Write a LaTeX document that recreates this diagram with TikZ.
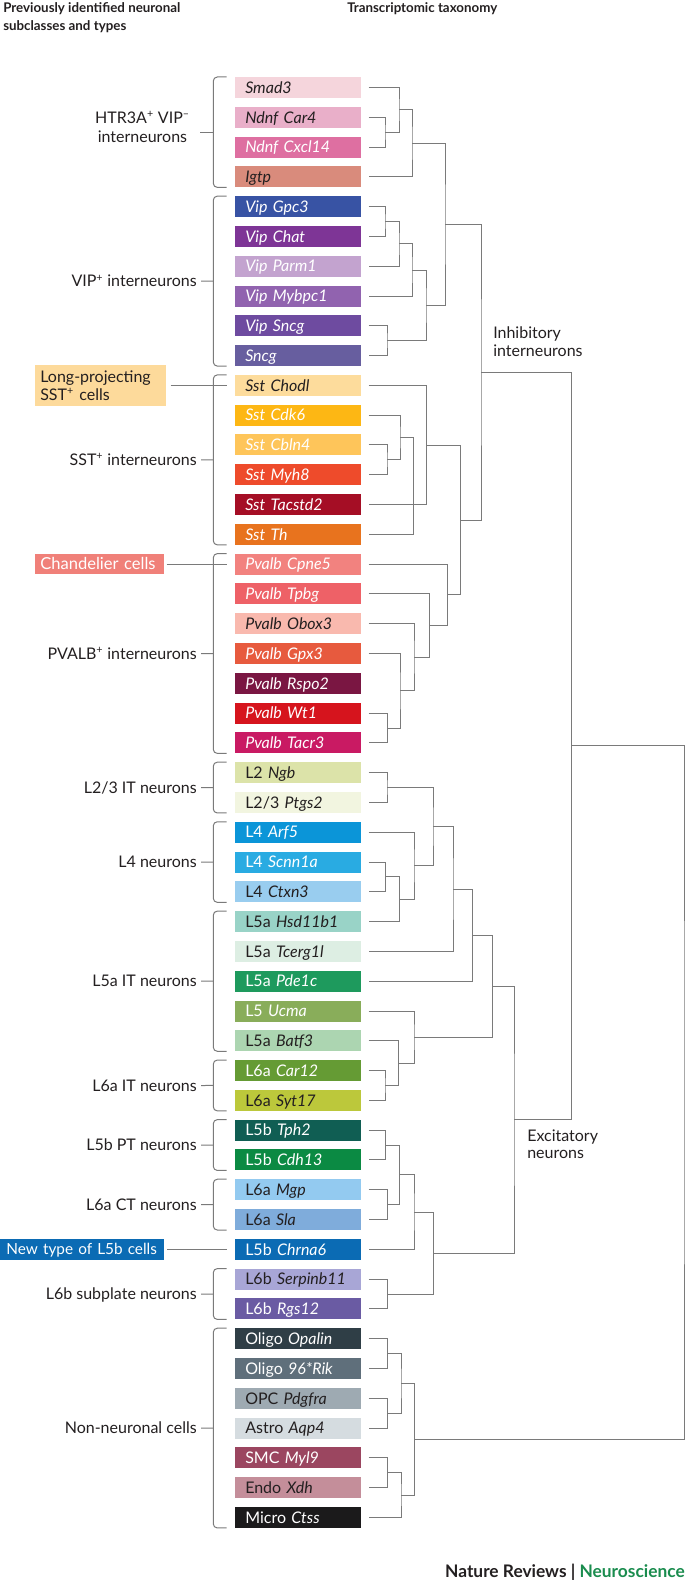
\documentclass[tikz,border=0pt]{standalone}
\usepackage{fontspec}
\setmainfont{Lato}
\definecolor{treegray}{HTML}{7A7A7A}
\definecolor{txt}{HTML}{231F20}
\definecolor{nrgreen}{HTML}{1A8C4E}
\definecolor{lpcol}{HTML}{FDDA9B}
\definecolor{chcol}{HTML}{F08079}
\definecolor{ntcol}{HTML}{0B6BB4}
\newcommand\leaf[4]{%
  \definecolor{lc#1}{HTML}{#2}%
  \node[leafbox, fill=lc#1, text=#3] (r#1) at (235,{87.5+29.79*#1}) {#4};
  \coordinate (t#1) at ([xshift=5.25pt]r#1.east);}
\newcommand\grpbrace[3]{%
  \draw[grpline] (226.7,{87.5+29.79*#1-10.5}) -- (213.3,{87.5+29.79*#1-10.5}) -- (213.3,{87.5+29.79*#2+10.5}) -- (226.7,{87.5+29.79*#2+10.5});
  \coordinate (b#3) at (213.3,{87.5+29.79*(#1+#2)/2});}
\begin{document}
\begin{tikzpicture}[x=0.75pt,y=-0.75pt,
  tree/.style={draw=treegray,line width=0.75pt},
  grpline/.style={draw=treegray,line width=0.75pt,rounded corners=3pt},
  leafbox/.style={anchor=west,minimum height=15.75pt,text width=79.5pt,inner xsep=7.5pt,inner ysep=0pt,align=left,text height=8.6pt,text depth=0pt,font=\fontsize{12}{14}\selectfont},
  grp/.style={anchor=east,inner sep=0pt,text=txt,text height=8.6pt,text depth=0pt,font=\fontsize{12}{14}\selectfont},
  side/.style={anchor=base west,inner sep=0pt,text=txt,font=\fontsize{12}{14}\selectfont},
  ttl/.style={anchor=base west,inner sep=0pt,text=txt,font=\bfseries\fontsize{10}{12}\selectfont},
]
\useasboundingbox (0,0) rectangle (685,1584);
% titles
\node[ttl] (ttlA) at (3,13) {Previously identified neuronal};
\node[ttl] (ttlB) at (3,31) {subclasses and types};
\node[ttl] (ttlC) at (347,13) {Transcriptomic taxonomy};
% leaves
\leaf{0}{F5D5DC}{txt}{\textit{Smad3}}
\leaf{1}{E9AFC9}{txt}{\textit{Ndnf Car4}}
\leaf{2}{DE6FA1}{white}{\textit{Ndnf Cxcl14}}
\leaf{3}{D98B7C}{txt}{\textit{Igtp}}
\leaf{4}{3853A4}{white}{\textit{Vip Gpc3}}
\leaf{5}{7E3596}{white}{\textit{Vip Chat}}
\leaf{6}{C3A3CF}{white}{\textit{Vip Parm1}}
\leaf{7}{9163AF}{white}{\textit{Vip Mybpc1}}
\leaf{8}{6E4BA0}{white}{\textit{Vip Sncg}}
\leaf{9}{675E9F}{white}{\textit{Sncg}}
\leaf{10}{FDDC9C}{txt}{\textit{Sst Chodl}}
\leaf{11}{FDB714}{white}{\textit{Sst Cdk6}}
\leaf{12}{FEC55A}{white}{\textit{Sst Cbln4}}
\leaf{13}{EE4B2B}{white}{\textit{Sst Myh8}}
\leaf{14}{A50E25}{white}{\textit{Sst Tacstd2}}
\leaf{15}{E8731E}{white}{\textit{Sst Th}}
\leaf{16}{F2827F}{white}{\textit{Pvalb Cpne5}}
\leaf{17}{EE6167}{white}{\textit{Pvalb Tpbg}}
\leaf{18}{F9B9AE}{txt}{\textit{Pvalb Obox3}}
\leaf{19}{E75A3E}{white}{\textit{Pvalb Gpx3}}
\leaf{20}{7A1642}{white}{\textit{Pvalb Rspo2}}
\leaf{21}{D6141D}{white}{\textit{Pvalb Wt1}}
\leaf{22}{C91A63}{white}{\textit{Pvalb Tacr3}}
\leaf{23}{DCE3A9}{txt}{L2 \textit{Ngb}}
\leaf{24}{F2F5E0}{txt}{L2/3 \textit{Ptgs2}}
\leaf{25}{0B95D8}{white}{L4 \textit{Arf5}}
\leaf{26}{29ABE2}{white}{L4 \textit{Scnn1a}}
\leaf{27}{99CDEF}{txt}{L4 \textit{Ctxn3}}
\leaf{28}{99D3C7}{txt}{L5a \textit{Hsd11b1}}
\leaf{29}{DDEEE3}{txt}{L5a \textit{Tcerg1l}}
\leaf{30}{1E9A5D}{white}{L5a \textit{Pde1c}}
\leaf{31}{89AD5A}{white}{L5 \textit{Ucma}}
\leaf{32}{ACD5B1}{txt}{L5a \textit{Batf3}}
\leaf{33}{659B34}{white}{L6a \textit{Car12}}
\leaf{34}{BCC83B}{txt}{L6a \textit{Syt17}}
\leaf{35}{105E53}{white}{L5b \textit{Tph2}}
\leaf{36}{0B8A43}{white}{L5b \textit{Cdh13}}
\leaf{37}{93CAF0}{txt}{L6a \textit{Mgp}}
\leaf{38}{7FACDB}{txt}{L6a \textit{Sla}}
\leaf{39}{0B6BB4}{white}{L5b \textit{Chrna6}}
\leaf{40}{A8A6D6}{txt}{L6b \textit{Serpinb11}}
\leaf{41}{6A5BA3}{white}{L6b \textit{Rgs12}}
\leaf{42}{2F3E46}{white}{Oligo \textit{Opalin}}
\leaf{43}{5F6F7B}{white}{Oligo \textit{96*Rik}}
\leaf{44}{9EAAB2}{txt}{OPC \textit{Pdgfra}}
\leaf{45}{D5DCE0}{txt}{Astro \textit{Aqp4}}
\leaf{46}{9B4660}{white}{SMC \textit{Myl9}}
\leaf{47}{C48E9A}{txt}{Endo \textit{Xdh}}
\leaf{48}{1B1A1B}{white}{Micro \textit{Ctss}}
% internal coordinates
\coordinate (a1) at (385,132.2);
\coordinate (a2) at (399,109.85);
\coordinate (a3) at (412,143.4);
\coordinate (v1) at (385,221.55);
\coordinate (v2) at (399,243.9);
\coordinate (v3) at (412,270);
\coordinate (v4) at (387,340.7);
\coordinate (v5) at (426,305.4);
\coordinate (h1) at (445,224.4);
\coordinate (s1) at (387,459.9);
\coordinate (s2) at (400,437.5);
\coordinate (s3) at (413.3,486);
\coordinate (s4) at (426.7,445);
\coordinate (p1) at (387.7,728);
\coordinate (p2) at (400,690.8);
\coordinate (p3) at (414,657.3);
\coordinate (p4) at (429.3,625.6);
\coordinate (p5) at (447.7,594.9);
\coordinate (sp) at (460.7,520);
\coordinate (inh) at (481,372.2);
\coordinate (e1) at (387,787.6);
\coordinate (e2) at (385.7,876.9);
\coordinate (e3) at (399.3,899.3);
\coordinate (e4) at (414,865.8);
\coordinate (e5) at (433,826.7);
\coordinate (e6) at (453,889);
\coordinate (e7) at (472.7,935.1);
\coordinate (f1) at (385,1085.5);
\coordinate (f2) at (398.3,1063.1);
\coordinate (f3) at (414,1037);
\coordinate (e8) at (492.3,986);
\coordinate (g1) at (385.7,1145);
\coordinate (g2) at (387.3,1204.6);
\coordinate (g3) at (399.3,1174.8);
\coordinate (g4) at (414,1212);
\coordinate (g5) at (387.3,1294);
\coordinate (g6) at (433.3,1253);
\coordinate (exc) at (514,1119.5);
\coordinate (ie) at (571.7,745.9);
\coordinate (n1) at (387.3,1353.6);
\coordinate (n2) at (387.3,1413.2);
\coordinate (n3) at (401,1383.4);
\coordinate (n4) at (387.3,1472.7);
\coordinate (n5) at (401,1495.1);
\coordinate (n6) at (414.3,1439.2);
\coordinate (root) at (684,1092.6);
% dendrogram
\draw[tree] (t1) -| (a1) |- (t2);
\draw[tree] (t0) -| (a2) |- (a1);
\draw[tree] (a2) -| (a3) |- (t3);
\draw[tree] (t4) -| (v1) |- (t5);
\draw[tree] (v1) -| (v2) |- (t6);
\draw[tree] (v2) -| (v3) |- (t7);
\draw[tree] (t8) -| (v4) |- (t9);
\draw[tree] (v3) -| (v5) |- (v4);
\draw[tree] (a3) -| (h1) |- (v5);
\draw[tree] (t12) -| (s1) |- (t13);
\draw[tree] (t11) -| (s2) |- (s1);
\draw[tree] (s2) -| (s3) |- (t15);
\draw[tree] (t10) -| (s4) |- (t14);
\draw[tree] (t21) -| (p1) |- (t22);
\draw[tree] (t19) -| (p2) |- (p1);
\draw[tree] (t18) -| (p3) |- (p2);
\draw[tree] (t17) -| (p4) |- (p3);
\draw[tree] (t16) -| (p5) |- (p4);
\draw[tree] (s4) -| (sp) |- (p5);
\draw[tree] (h1) -| (inh) |- (sp);
\draw[tree] (t23) -| (e1) |- (t24);
\draw[tree] (t26) -| (e2) |- (t27);
\draw[tree] (e2) -| (e3) |- (t28);
\draw[tree] (t25) -| (e4) |- (e3);
\draw[tree] (e1) -| (e5) |- (e4);
\draw[tree] (e5) -| (e6) |- (t29);
\draw[tree] (e6) -| (e7) |- (t30);
\draw[tree] (t33) -| (f1) |- (t34);
\draw[tree] (t32) -| (f2) |- (f1);
\draw[tree] (t31) -| (f3) |- (f2);
\draw[tree] (e7) -| (e8) |- (f3);
\draw[tree] (t35) -| (g1) |- (t36);
\draw[tree] (t37) -| (g2) |- (t38);
\draw[tree] (g1) -| (g3) |- (g2);
\draw[tree] (g3) -| (g4) |- (t39);
\draw[tree] (t40) -| (g5) |- (t41);
\draw[tree] (g4) -| (g6) |- (g5);
\draw[tree] (e8) -| (exc) |- (g6);
\draw[tree] (inh) -| (ie) |- (exc);
\draw[tree] (t42) -| (n1) |- (t43);
\draw[tree] (t44) -| (n2) |- (t45);
\draw[tree] (n1) -| (n3) |- (n2);
\draw[tree] (t46) -| (n4) |- (t47);
\draw[tree] (n4) -| (n5) |- (t48);
\draw[tree] (n3) -| (n6) |- (n5);
\draw[tree] (ie) -| (root) |- (n6);
% side labels
\node[side] (inhA) at (493,338.3) {Inhibitory};
\node[side] (inhB) at (493,356) {interneurons};
\node[side] (excA) at (527,1141.7) {Excitatory};
\node[side] (excB) at (527,1158.5) {neurons};
% group braces
\grpbrace{0}{3}{HTR}
\grpbrace{4}{9}{VIP}
\grpbrace{10}{15}{SST}
\grpbrace{16}{22}{PV}
\grpbrace{23}{24}{LtwoIT}
\grpbrace{25}{27}{Lfour}
\grpbrace{28}{32}{LfiveIT}
\grpbrace{33}{34}{LsixIT}
\grpbrace{35}{36}{LfivePT}
\grpbrace{37}{38}{LsixCT}
\grpbrace{40}{41}{LsixB}
\grpbrace{42}{48}{Non}
\node[anchor=east,inner sep=0pt,text=txt,align=center,font=\fontsize{12}{14.5}\selectfont] (gHTR) at (190,127) {HTR3A\textsuperscript{+} VIP\textsuperscript{–}\\interneurons};
\draw[tree] ([xshift=7.5pt]gHTR.east |- bHTR) -- (bHTR);
\node[grp] (gVIP) at (197,281.1) {VIP\textsuperscript{+} interneurons};
\draw[tree] ([xshift=3pt]gVIP.east) -- (bVIP);
\node[grp] (gSST) at (197,459.9) {SST\textsuperscript{+} interneurons};
\draw[tree] ([xshift=3pt]gSST.east) -- (bSST);
\node[grp] (gPV) at (197,653.5) {PVALB\textsuperscript{+} interneurons};
\draw[tree] ([xshift=3pt]gPV.east) -- (bPV);
\node[grp] (gLtwoIT) at (197,787.6) {L2/3 IT neurons};
\draw[tree] ([xshift=3pt]gLtwoIT.east) -- (bLtwoIT);
\node[grp] (gLfour) at (197,862.0) {L4 neurons};
\draw[tree] ([xshift=3pt]gLfour.east) -- (bLfour);
\node[grp] (gLfiveIT) at (197,981.2) {L5a IT neurons};
\draw[tree] ([xshift=3pt]gLfiveIT.east) -- (bLfiveIT);
\node[grp] (gLsixIT) at (197,1085.5) {L6a IT neurons};
\draw[tree] ([xshift=3pt]gLsixIT.east) -- (bLsixIT);
\node[grp] (gLfivePT) at (197,1145.0) {L5b PT neurons};
\draw[tree] ([xshift=3pt]gLfivePT.east) -- (bLfivePT);
\node[grp] (gLsixCT) at (197,1204.6) {L6a CT neurons};
\draw[tree] ([xshift=3pt]gLsixCT.east) -- (bLsixCT);
\node[grp] (gLsixB) at (197,1294.0) {L6b subplate neurons};
\draw[tree] ([xshift=3pt]gLsixB.east) -- (bLsixB);
\node[grp] (gNon) at (197,1428.0) {Non-neuronal cells};
\draw[tree] ([xshift=3pt]gNon.east) -- (bNon);
% highlighted boxes
\node[anchor=west,fill=lpcol,text=txt,minimum height=30.2pt,text width=90.2pt,inner xsep=4.3pt,inner ysep=0pt,align=left,font=\fontsize{12}{13.7}\selectfont] (lp) at (34.3,385.4) {Long-projecting\\SST\textsuperscript{+} cells};
\coordinate (lpEnd) at (226.7,385.4);
\draw[tree] ([xshift=3pt]lp.east) -- (lpEnd);
\node[anchor=west,fill=chcol,text=white,minimum height=15.5pt,text width=88.2pt,inner xsep=4.3pt,inner ysep=0pt,align=left,text height=8.6pt,text depth=0pt,font=\fontsize{12.4}{14}\selectfont] (ch) at (34.3,564.14) {Chandelier cells};
\coordinate (chEnd) at (226.7,564.14);
\draw[tree] ([xshift=2pt]ch.east) -- (chEnd);
\node[anchor=west,fill=ntcol,text=white,minimum height=15.5pt,text width=113.8pt,inner xsep=4.6pt,inner ysep=0pt,align=left,text height=8.3pt,text depth=0pt,font=\fontsize{11.5}{14}\selectfont] (nt) at (0,1249.31) {New type of L5b cells};
\coordinate (ntEnd) at (226.7,1249.31);
\draw[tree] ([xshift=2pt]nt.east) -- (ntEnd);
% footer
\node[anchor=base east,inner sep=0pt,text=txt,font=\bfseries\fontsize{13}{15}\selectfont] (foot) at (685,1577) {Nature Reviews | \textcolor{nrgreen}{Neuroscience}};
\end{tikzpicture}
\end{document}
